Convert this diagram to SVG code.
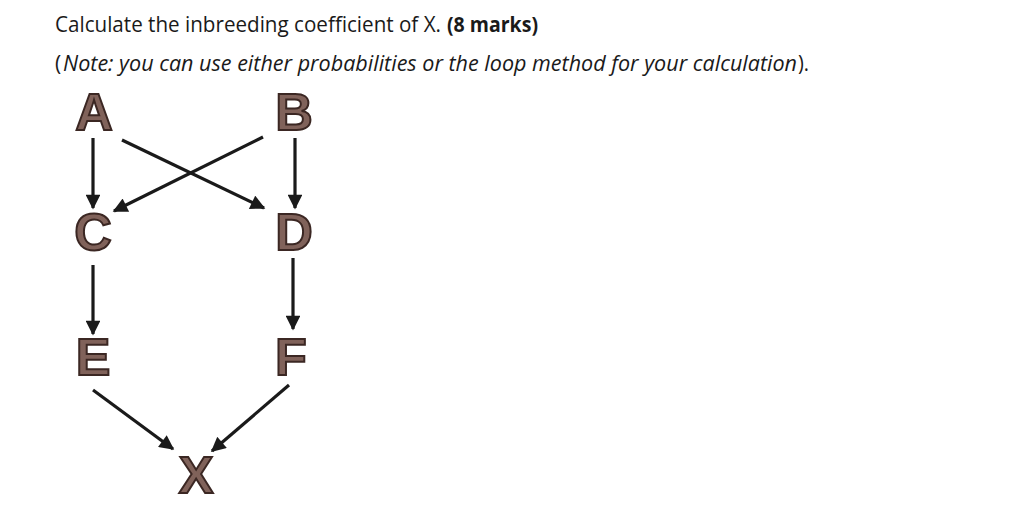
<svg xmlns="http://www.w3.org/2000/svg" width="1024" height="531" viewBox="0 0 1024 531">
<defs>
<style>
.t{font-family:"Open Sans","Liberation Sans",sans-serif;font-size:21px;fill:#1a1a1a}
.b{font-weight:bold}
.i{font-style:italic}
.n{font-family:"Liberation Sans",Arial,sans-serif;font-weight:bold;font-size:52px;fill:#80625a;stroke:#3b2723;stroke-width:2;text-anchor:middle}
.e{stroke:#1a1a1a;stroke-width:3.2;fill:none;marker-end:url(#ah)}
</style>
<marker id="ah" viewBox="0 0 10 10" refX="9" refY="5" markerWidth="5" markerHeight="4.6" orient="auto" markerUnits="strokeWidth">
<path d="M0,0 L10,5 L0,10 Z" fill="#1a1a1a"/>
</marker>
</defs>
<rect width="1024" height="531" fill="#ffffff"/>
<g id="title">
<text class="t" x="55" y="32" textLength="386" lengthAdjust="spacingAndGlyphs">Calculate the inbreeding coefficient of X.</text>
<text class="t b" x="447" y="32" textLength="91" lengthAdjust="spacingAndGlyphs">(8 marks)</text>
</g>
<g id="note">
<text class="t" x="55" y="71">(</text>
<text class="t i" x="63" y="71" textLength="734" lengthAdjust="spacingAndGlyphs">Note: you can use either probabilities or the loop method for your calculation</text>
<text class="t" x="798" y="71" textLength="11" lengthAdjust="spacingAndGlyphs">).</text>
</g>
<g id="connectors">
<line class="e" x1="93" y1="138" x2="93" y2="208"/>
<line class="e" x1="295" y1="138" x2="295" y2="208"/>
<line class="e" x1="122" y1="140" x2="264" y2="208"/>
<line class="e" x1="263" y1="137" x2="114" y2="211"/>
<line class="e" x1="93" y1="265" x2="93" y2="334"/>
<line class="e" x1="293" y1="258" x2="293" y2="329"/>
<line class="e" x1="93" y1="390" x2="173" y2="449"/>
<line class="e" x1="289" y1="385" x2="212" y2="451"/>
</g>
<g id="A"><text class="n" x="94" y="130">A</text></g>
<g id="B"><text class="n" x="294" y="130">B</text></g>
<g id="C"><text class="n" x="93" y="250">C</text></g>
<g id="D"><text class="n" x="294" y="250">D</text></g>
<g id="E"><text class="n" x="93" y="375">E</text></g>
<g id="F"><text class="n" x="291" y="375">F</text></g>
<g id="X"><text class="n" x="196" y="493">X</text></g>
</svg>
